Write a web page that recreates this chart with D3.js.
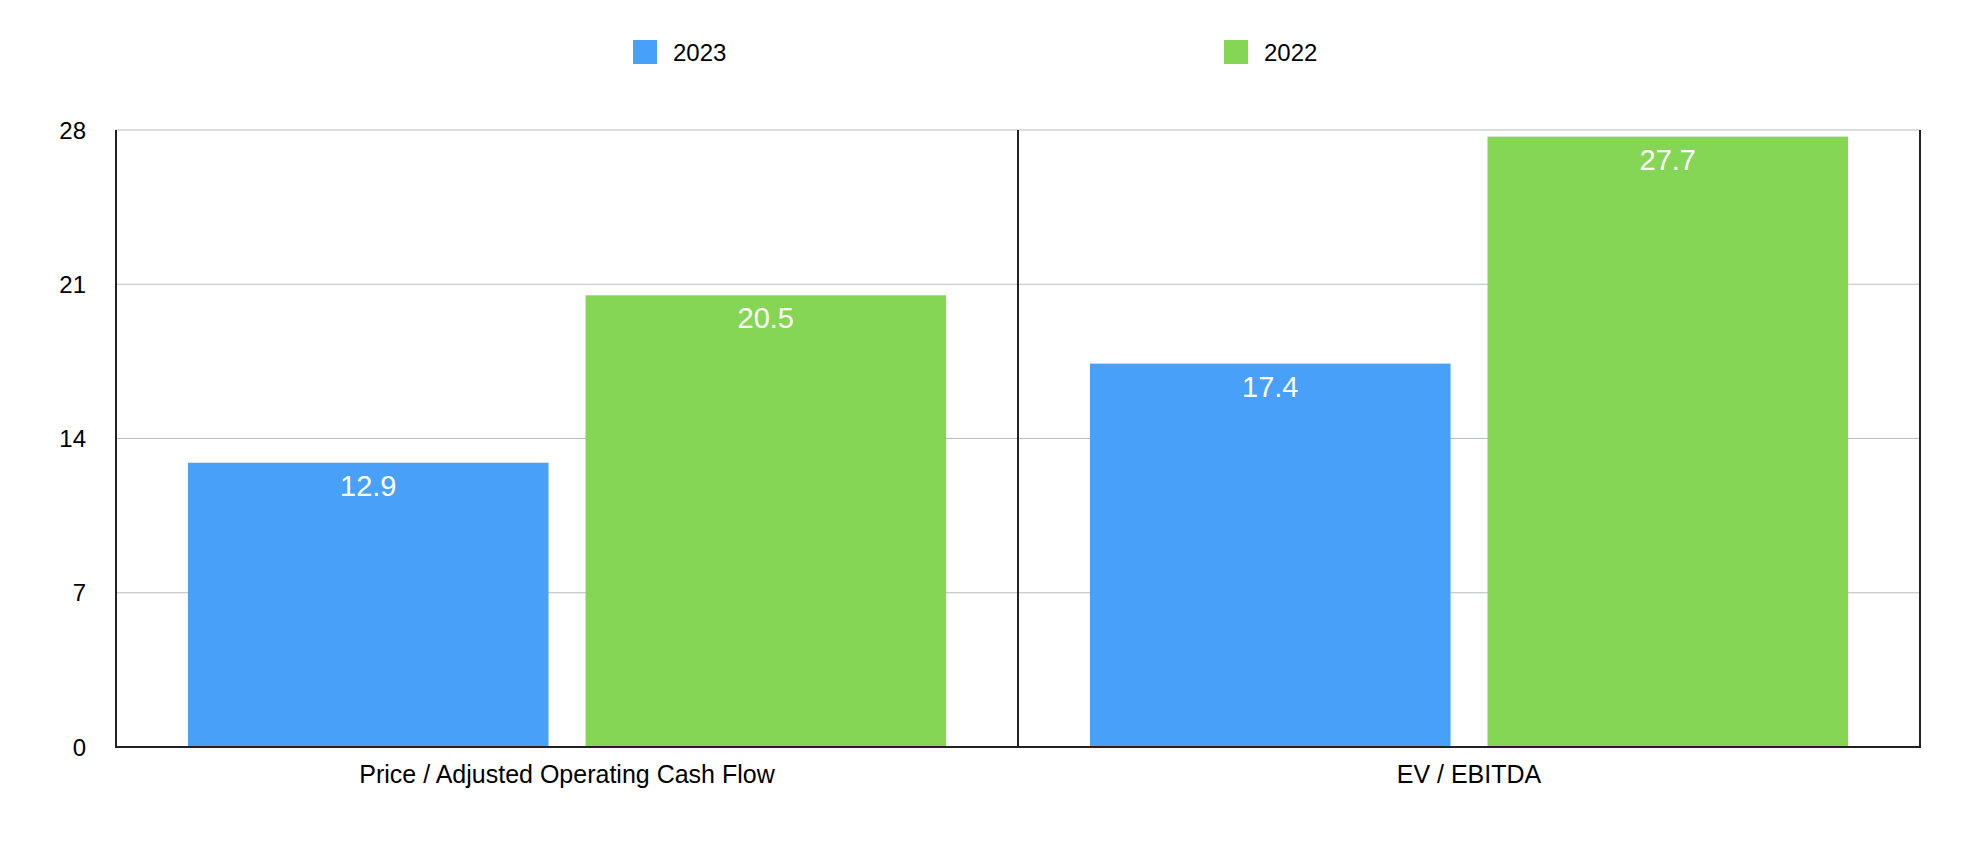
<!DOCTYPE html>
<html>
<head>
<meta charset="utf-8">
<script src="https://cdn.jsdelivr.net/npm/d3@7"></script>
<style>
  html, body { margin: 0; padding: 0; background: #fff; }
  svg { display: block; }
</style>
</head>
<body>
<div id="chart"></div>
<script>
(function () {
  "use strict";

  // Chart data
  const categories = ["Price / Adjusted Operating Cash Flow", "EV / EBITDA"];
  const seriesNames = ["2023", "2022"];
  const values2023 = [12.9, 17.4];
  const values2022 = [20.5, 27.7];
  const yTicks = [0, 7, 14, 21, 28];

  const W = 1976, H = 856;
  const FONT = "'Liberation Sans', Arial, Helvetica, sans-serif";
  const COLORS = { "2023": "#49a0f8", "2022": "#86d655" };

  const margin = { top: 130, right: 56, bottom: 109, left: 116 };
  const x0 = margin.left, x1 = W - margin.right;
  const yTop = margin.top, yBot = H - margin.bottom;

  const svg = d3.select("#chart").append("svg")
    .attr("width", W).attr("height", H);

  // Scales
  const x = d3.scaleBand().domain(categories).range([x0, x1]).padding(0);
  const xs = d3.scaleBand().domain(seriesNames).range([0, x.bandwidth()])
    .paddingInner(0.093).paddingOuter(0.181);
  const y = d3.scaleLinear().domain([0, 28]).range([yBot, yTop]);

  const rows = categories.map((c, i) => ({
    cat: c,
    vals: [
      { key: "2023", v: values2023[i] },
      { key: "2022", v: values2022[i] }
    ]
  }));

  // Gridlines
  svg.append("g").selectAll("line").data(yTicks.filter(t => t > 0)).enter().append("line")
    .attr("x1", x0).attr("x2", x1)
    .attr("y1", d => y(d)).attr("y2", d => y(d))
    .attr("stroke", "#bcbcbc").attr("stroke-width", 1.2);

  // Y tick labels
  svg.append("g").selectAll("text").data(yTicks).enter().append("text")
    .attr("x", 86).attr("y", d => y(d))
    .attr("dy", "0.36em")
    .attr("text-anchor", "end")
    .attr("font-family", FONT).attr("font-size", "24px").attr("fill", "#000")
    .text(d => d);

  // Bars
  const groups = svg.append("g").selectAll("g").data(rows).enter().append("g")
    .attr("transform", d => `translate(${x(d.cat)},0)`);

  groups.selectAll("rect").data(d => d.vals).enter().append("rect")
    .attr("x", d => xs(d.key))
    .attr("y", d => y(d.v))
    .attr("width", xs.bandwidth())
    .attr("height", d => y(0) - y(d.v))
    .attr("fill", d => COLORS[d.key]);

  // Value labels inside bars
  groups.selectAll("text").data(d => d.vals).enter().append("text")
    .attr("x", d => xs(d.key) + xs.bandwidth() / 2)
    .attr("y", d => y(d.v) + 33)
    .attr("text-anchor", "middle")
    .attr("font-family", FONT).attr("font-size", "29px").attr("fill", "#fff")
    .text(d => d.v.toFixed(1));

  // Axis frame: left, right, bottom and category divider
  const axisG = svg.append("g").attr("stroke", "#222").attr("stroke-width", 2);
  axisG.append("line").attr("x1", x0).attr("x2", x0).attr("y1", yTop).attr("y2", yBot + 1);
  axisG.append("line").attr("x1", x1).attr("x2", x1).attr("y1", yTop).attr("y2", yBot + 1);
  axisG.append("line").attr("x1", x0 - 1).attr("x2", x1 + 1).attr("y1", yBot).attr("y2", yBot);
  axisG.selectAll("line.div").data(categories.slice(1)).enter().append("line")
    .attr("class", "div")
    .attr("x1", d => x(d)).attr("x2", d => x(d))
    .attr("y1", yTop).attr("y2", yBot);

  // Category labels
  svg.append("g").selectAll("text").data(categories).enter().append("text")
    .attr("x", d => x(d) + x.bandwidth() / 2)
    .attr("y", 783)
    .attr("text-anchor", "middle")
    .attr("font-family", FONT).attr("font-size", "25px").attr("fill", "#000")
    .text(d => d);

  // Legend
  const legendX = [633, 1224];
  const legend = svg.append("g").selectAll("g").data(seriesNames).enter().append("g")
    .attr("transform", (d, i) => `translate(${legendX[i]},40)`);
  legend.append("rect").attr("width", 24).attr("height", 24)
    .attr("fill", d => COLORS[d]);
  legend.append("text").attr("x", 40).attr("y", 21)
    .attr("font-family", FONT).attr("font-size", "24px").attr("fill", "#000")
    .text(d => d);
})();
</script>
</body>
</html>
